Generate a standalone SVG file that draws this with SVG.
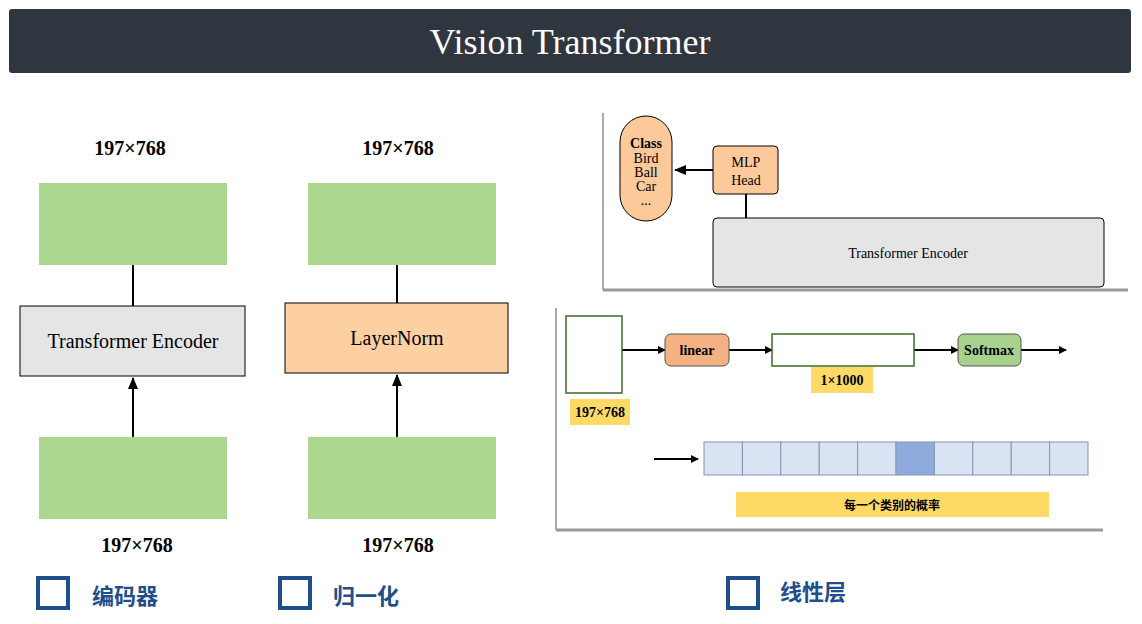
<svg xmlns="http://www.w3.org/2000/svg" width="1142" height="624" viewBox="0 0 1142 624">
<style>
.dim{font-family:"Liberation Serif",serif;font-weight:bold;font-size:20px;text-anchor:middle}
.g{fill:#acd78f}
.lbl{font-family:"Liberation Serif",serif;font-size:20px;text-anchor:middle}
.cb{fill:none;stroke:#1f4e8c;stroke-width:4}
.cbt{font-family:"Noto Sans CJK SC",sans-serif;font-weight:bold;font-size:22px;fill:#1f4e8c}
.ln{stroke:#000;stroke-width:2;fill:none}
.s{font-family:"Liberation Serif",serif;font-size:14px;text-anchor:middle}
.y{fill:#fdd966}
.cell{fill:#dae3f3;stroke:#8497b0;stroke-width:1}
</style>
<defs>
<marker id="a" markerWidth="8" markerHeight="8" refX="7" refY="4" orient="auto" markerUnits="userSpaceOnUse"><path d="M0,0L8,4L0,8z" fill="#000"/></marker>
<marker id="b" markerWidth="12" markerHeight="10" refX="11" refY="5" orient="auto" markerUnits="userSpaceOnUse"><path d="M0,0L12,5L0,10z" fill="#000"/></marker>
</defs>
<rect width="1142" height="624" fill="#fff"/>
<g id="title"><rect x="9" y="9" width="1122" height="64" rx="3" fill="#2f3640"/><text x="570" y="54" font-family="Liberation Serif,serif" font-size="36" fill="#fff" text-anchor="middle">Vision Transformer</text></g>
<g id="connectors">
<line class="ln" x1="133" y1="265" x2="133" y2="306"/>
<line class="ln" x1="133" y1="437" x2="133" y2="378" marker-end="url(#b)"/>
<line class="ln" x1="397" y1="265" x2="397" y2="303"/>
<line class="ln" x1="397" y1="437" x2="397" y2="375" marker-end="url(#b)"/>
<line class="ln" x1="713" y1="170" x2="675" y2="170" marker-end="url(#b)"/>
<line class="ln" x1="746" y1="194" x2="746" y2="218"/>
<line class="ln" x1="622" y1="350" x2="665" y2="350" marker-end="url(#a)"/>
<line class="ln" x1="729" y1="350" x2="772" y2="350" marker-end="url(#a)"/>
<line class="ln" x1="914" y1="350" x2="958" y2="350" marker-end="url(#a)"/>
<line class="ln" x1="1021" y1="350" x2="1066" y2="350" marker-end="url(#a)"/>
<line class="ln" x1="654" y1="459" x2="698" y2="459" marker-end="url(#a)"/>
</g>
<g id="left">
<text class="dim" x="130" y="155">197×768</text>
<rect class="g" x="39" y="183" width="188" height="82"/>
<rect x="20" y="306" width="225" height="70" fill="#e5e5e5" stroke="#000"/>
<text class="lbl" x="133" y="348">Transformer Encoder</text>
<rect class="g" x="39" y="437" width="188" height="82"/>
<text class="dim" x="137" y="552">197×768</text>
</g>
<g id="mid">
<text class="dim" x="398" y="155">197×768</text>
<rect class="g" x="308" y="183" width="188" height="82"/>
<rect x="285" y="303" width="223" height="70" fill="#fdd0a2" stroke="#000"/>
<text class="lbl" x="397" y="345">LayerNorm</text>
<rect class="g" x="308" y="437" width="188" height="82"/>
<text class="dim" x="398" y="552">197×768</text>
</g>
<g id="checks">
<rect class="cb" x="38" y="578" width="30" height="30"/><text class="cbt" x="92" y="604">编码器</text>
<rect class="cb" x="280" y="578" width="30" height="30"/><text class="cbt" x="333" y="604">归一化</text>
<rect class="cb" x="728" y="578" width="30" height="30"/><text class="cbt" x="780" y="600">线性层</text>
</g>
<g id="panel1">
<line x1="603" y1="113" x2="603" y2="290" stroke="#aaa" stroke-width="2"/>
<line x1="603" y1="290" x2="1128" y2="290" stroke="#999" stroke-width="3"/>
<rect x="620" y="116" width="52" height="105" rx="26" fill="#fbc99a" stroke="#000"/>
<text class="s" x="646" y="148" font-weight="bold" font-size="15">Class</text>
<text class="s" x="646" y="163">Bird</text><text class="s" x="646" y="177">Ball</text><text class="s" x="646" y="191">Car</text><text class="s" x="646" y="205">...</text>
<rect x="713" y="146" width="65" height="48" rx="4" fill="#fbc99a" stroke="#000"/>
<text class="s" x="746" y="167" font-size="17">MLP</text><text class="s" x="746" y="185" font-size="17">Head</text>
<rect x="713" y="218" width="391" height="69" rx="4" fill="#e5e5e5" stroke="#000"/>
<text class="s" x="908" y="258" font-size="17">Transformer Encoder</text>
</g>
<g id="panel2">
<line x1="556" y1="308" x2="556" y2="530" stroke="#aaa" stroke-width="2"/>
<line x1="556" y1="530" x2="1103" y2="530" stroke="#999" stroke-width="3"/>
<rect x="566" y="316" width="56" height="77" fill="#fff" stroke="#3d6b22" stroke-width="1.5"/>
<rect class="y" x="570" y="399" width="60" height="26"/><text class="s" x="600" y="417" font-weight="bold" font-size="12">197×768</text>
<rect x="665" y="334" width="64" height="32" rx="6" fill="#f4b183" stroke="#555"/><text class="s" x="697" y="355" font-weight="bold" font-size="13">linear</text>
<rect x="772" y="334" width="142" height="32" fill="#fff" stroke="#3d6b22" stroke-width="1.5"/>
<rect class="y" x="811" y="367" width="62" height="26"/><text class="s" x="842" y="385" font-weight="bold" font-size="12">1×1000</text>
<rect x="958" y="334" width="63" height="32" rx="6" fill="#a9d18e" stroke="#555"/><text class="s" x="989" y="355" font-weight="bold" font-size="13">Softmax</text>
<rect class="cell" x="704" y="442" width="38.4" height="33"/><rect class="cell" x="742.4" y="442" width="38.4" height="33"/><rect class="cell" x="780.8" y="442" width="38.4" height="33"/><rect class="cell" x="819.2" y="442" width="38.4" height="33"/><rect class="cell" x="857.6" y="442" width="38.4" height="33"/><rect class="cell" x="896" y="442" width="38.4" height="33" style="fill:#8faadc"/><rect class="cell" x="934.4" y="442" width="38.4" height="33"/><rect class="cell" x="972.8" y="442" width="38.4" height="33"/><rect class="cell" x="1011.2" y="442" width="38.4" height="33"/><rect class="cell" x="1049.6" y="442" width="38.4" height="33"/>
<rect class="y" x="736" y="492" width="313" height="25"/><text x="892" y="510" font-family="Noto Sans CJK SC,sans-serif" font-weight="bold" font-size="12" text-anchor="middle">每一个类别的概率</text>
</g>
</svg>
